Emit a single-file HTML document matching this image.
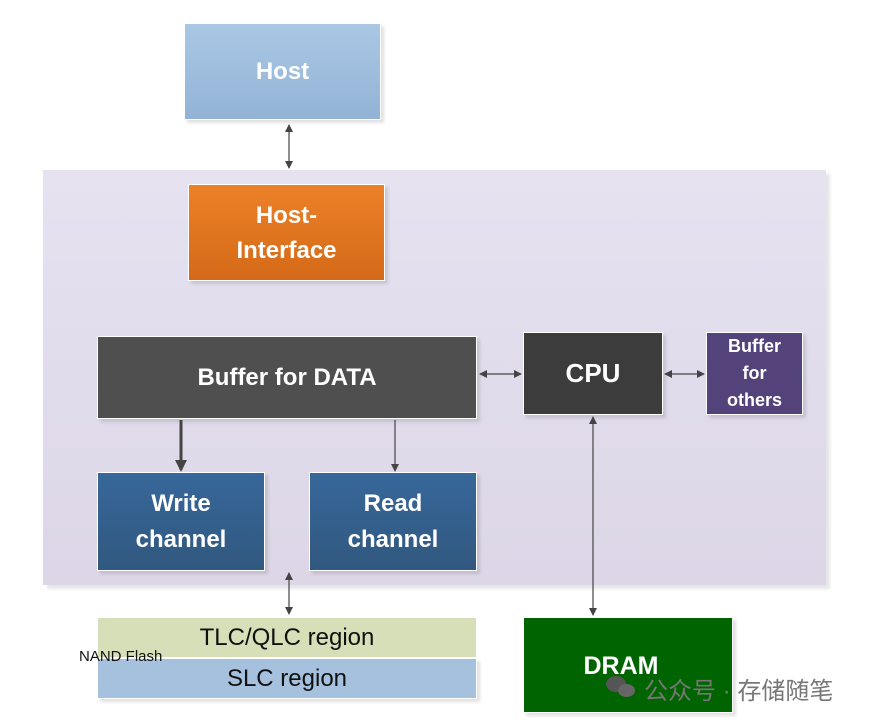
<!DOCTYPE html>
<html><head><meta charset="utf-8"><style>
body{margin:0;width:870px;height:722px;background:#fff;position:relative;overflow:hidden;font-family:"Liberation Sans","Noto Sans CJK SC",sans-serif}
.b{position:absolute;display:flex;align-items:center;justify-content:center;text-align:center;color:#fff;font-weight:bold;box-sizing:border-box;border:1px solid #fff;box-shadow:3px 3px 3px rgba(0,0,0,0.12)}
svg{position:absolute;left:0;top:0}
</style></head><body>
<div style="position:absolute;left:43px;top:170px;width:783px;height:415px;background:linear-gradient(#e6e2f0,#dcd6e7);box-shadow:4px 4px 3px rgba(0,0,0,0.1)"></div>
<div class="b" style="left:184px;top:23px;width:197px;height:97px;background:linear-gradient(#aac8e4,#93b3d6);font-size:24px">Host</div>
<div class="b" style="left:188px;top:184px;width:197px;height:97px;background:linear-gradient(#ec8128,#d46a18);font-size:24px;line-height:35px">Host-<br>Interface</div>
<div class="b" style="left:97px;top:336px;width:380px;height:83px;background:#4f4f4f;font-size:24px">Buffer for DATA</div>
<div class="b" style="left:523px;top:332px;width:140px;height:83px;background:#3c3c3c;font-size:26px">CPU</div>
<div class="b" style="left:706px;top:332px;width:97px;height:83px;background:#54437a;font-size:18px;line-height:27px">Buffer<br>for<br>others</div>
<div class="b" style="left:97px;top:472px;width:168px;height:99px;background:linear-gradient(#37679a,#31587f);font-size:24px;line-height:36px">Write<br>channel</div>
<div class="b" style="left:309px;top:472px;width:168px;height:99px;background:linear-gradient(#37679a,#31587f);font-size:24px;line-height:36px">Read<br>channel</div>
<div class="b" style="left:97px;top:617px;width:380px;height:41px;background:#d6dfb8;color:#111;font-weight:normal;font-size:24px;box-shadow:none">TLC/QLC region</div>
<div class="b" style="left:97px;top:658px;width:380px;height:41px;background:#a5c1dd;color:#111;font-weight:normal;font-size:24px">SLC region</div>
<div style="position:absolute;left:79px;top:648px;font-size:15px;color:#111">NAND Flash</div>
<div class="b" style="left:523px;top:617px;width:210px;height:96px;background:#006400;font-size:25px;align-items:flex-start;padding-top:34px;padding-right:14px">DRAM</div>
<div style="position:absolute;left:644px;top:671px;font-size:24px;color:#777">公众号 · 存储随笔</div>
<div style="position:absolute;left:606px;top:676px;width:20px;height:16px;border-radius:50%;background:#555"></div>
<div style="position:absolute;left:618px;top:684px;width:17px;height:13px;border-radius:50%;background:#666"></div>
<svg width="870" height="722"><defs>
<marker id="a" markerWidth="8" markerHeight="8" refX="7" refY="4" orient="auto-start-reverse" markerUnits="userSpaceOnUse"><path d="M0,0L8,4L0,8z" fill="#444"/></marker>
<marker id="c" markerWidth="12" markerHeight="12" refX="10" refY="6" orient="auto" markerUnits="userSpaceOnUse"><path d="M0,0L12,6L0,12z" fill="#444"/></marker></defs>
<g stroke="#444" stroke-width="1.2" fill="none">
<line x1="289" y1="125" x2="289" y2="168" marker-start="url(#a)" marker-end="url(#a)"/>
<line x1="289" y1="573" x2="289" y2="614" marker-start="url(#a)" marker-end="url(#a)"/>
<line x1="480" y1="374" x2="521" y2="374" marker-start="url(#a)" marker-end="url(#a)"/>
<line x1="665" y1="374" x2="704" y2="374" marker-start="url(#a)" marker-end="url(#a)"/>
<line x1="593" y1="417" x2="593" y2="615" marker-start="url(#a)" marker-end="url(#a)"/>
<line x1="395" y1="420" x2="395" y2="471" marker-end="url(#a)"/>
<line x1="181" y1="420" x2="181" y2="470" stroke-width="3" marker-end="url(#c)"/>
</g></svg>
</body></html>
